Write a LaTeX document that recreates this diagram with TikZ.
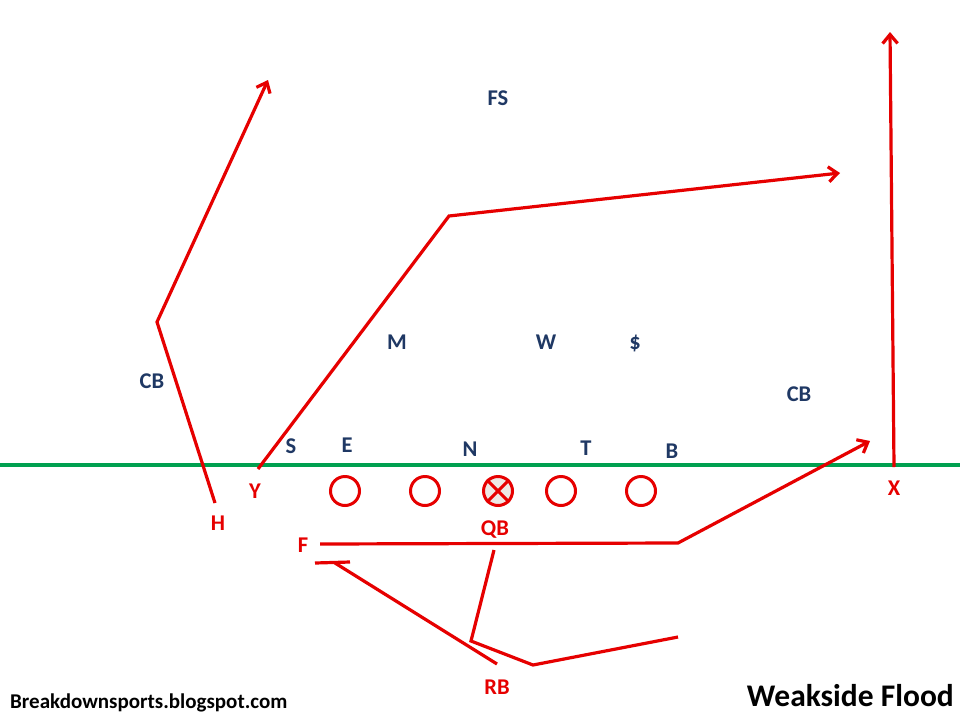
\documentclass[tikz,border=0pt]{standalone}
\usepackage{fontspec}
\setmainfont{Carlito}
\usetikzlibrary{arrows.meta}
\definecolor{rt}{RGB}{230,0,0}
\definecolor{nv}{RGB}{31,56,100}
\definecolor{gl}{RGB}{0,160,80}
\definecolor{ballfill}{RGB}{238,232,228}
\begin{document}
\begin{tikzpicture}[x=1pt,y=-1pt,
  def/.style={text=nv,font=\fontsize{22.5}{24}\selectfont\bfseries,inner sep=0pt},
  off/.style={text=rt,font=\fontsize{22.5}{24}\selectfont\bfseries,inner sep=0pt},
  lineman/.style={circle,draw=rt,line width=3pt,minimum size=29pt,inner sep=0pt},
  route/.style={draw=rt,line width=3.2pt,line join=miter},
  arr/.style={-{Straight Barb[length=9pt,width=15pt,line width=3.2pt]}}
]
\useasboundingbox (0,0) rectangle (960,720);
\fill[white] (0,0) rectangle (960,720);
% line of scrimmage
\coordinate (losL) at (0,465);
\coordinate (losR) at (960,465);
\draw[gl,line width=3.4pt] (losL) -- (losR);
% offensive line
\node[lineman] (lt) at (345,491) {};
\node[lineman] (lg) at (425,491) {};
\node[lineman,fill=ballfill] (c) at (498,491) {};
\node[lineman] (rg) at (561,491) {};
\node[lineman] (rt) at (641,491) {};
\draw[rt,line width=3pt] (c.north west) -- (c.south east) (c.north east) -- (c.south west);
% defense
\node[def] (fs) at (498,98) {FS};
\node[def] (m) at (397,342) {M};
\node[def] (w) at (546,342) {W};
\node[def] (dol) at (635,343) {\$};
\node[def] (cbl) at (152,381) {CB};
\node[def] (cbr) at (799,394) {CB};
\node[def] (s) at (291,446) {S};
\node[def] (e) at (347,445) {E};
\node[def] (n) at (470,449) {N};
\node[def] (t) at (586,448) {T};
\node[def] (b) at (672,451) {B};
% offense labels
\node[off] (h) at (218,523) {H};
\node[off] (y) at (255,491) {Y};
\node[off] (x) at (894,488) {X};
\node[off] (f) at (303,545) {F};
\node[off] (qb) at (495,530) {QB};
\node[off] (rb) at (497,687) {RB};
% route points
\coordinate (h0) at (215,503);
\coordinate (h1) at (157,322);
\coordinate (h2) at (268,80);
\coordinate (y0) at (258,469);
\coordinate (y1) at (449,216);
\coordinate (y2) at (840,173);
\coordinate (x0) at (894,467);
\coordinate (x1) at (890,32);
\coordinate (f0) at (320,544);
\coordinate (f1) at (678,543);
\coordinate (f2) at (870,441);
\coordinate (q0) at (494,550);
\coordinate (q1) at (471,641);
\coordinate (q2) at (533,665);
\coordinate (q3) at (678,637);
\coordinate (r0) at (497,664);
\coordinate (r1) at (335,563);
\coordinate (bk0) at (315,563);
\coordinate (bk1) at (350,562);
% routes
\draw[route,arr] (h0) -- (h1) -- (h2);
\draw[route,arr] (y0) -- (y1) -- (y2);
\draw[route,arr] (x0) -- (x1);
\draw[route,arr] (f0) -- (f1) -- (f2);
\draw[route] (q0) -- (q1) -- (q2) -- (q3);
\draw[route] (r0) -- (r1);
\draw[route] (bk0) -- (bk1);
% captions
\node[anchor=west,inner sep=0pt,font=\fontsize{21}{23}\selectfont\bfseries] (site) at (10,703) {Breakdownsports.blogspot.com};
\node[anchor=east,inner sep=0pt,font=\fontsize{31.5}{33}\selectfont\bfseries] (title) at (954,696) {Weakside Flood};
\end{tikzpicture}
\end{document}
